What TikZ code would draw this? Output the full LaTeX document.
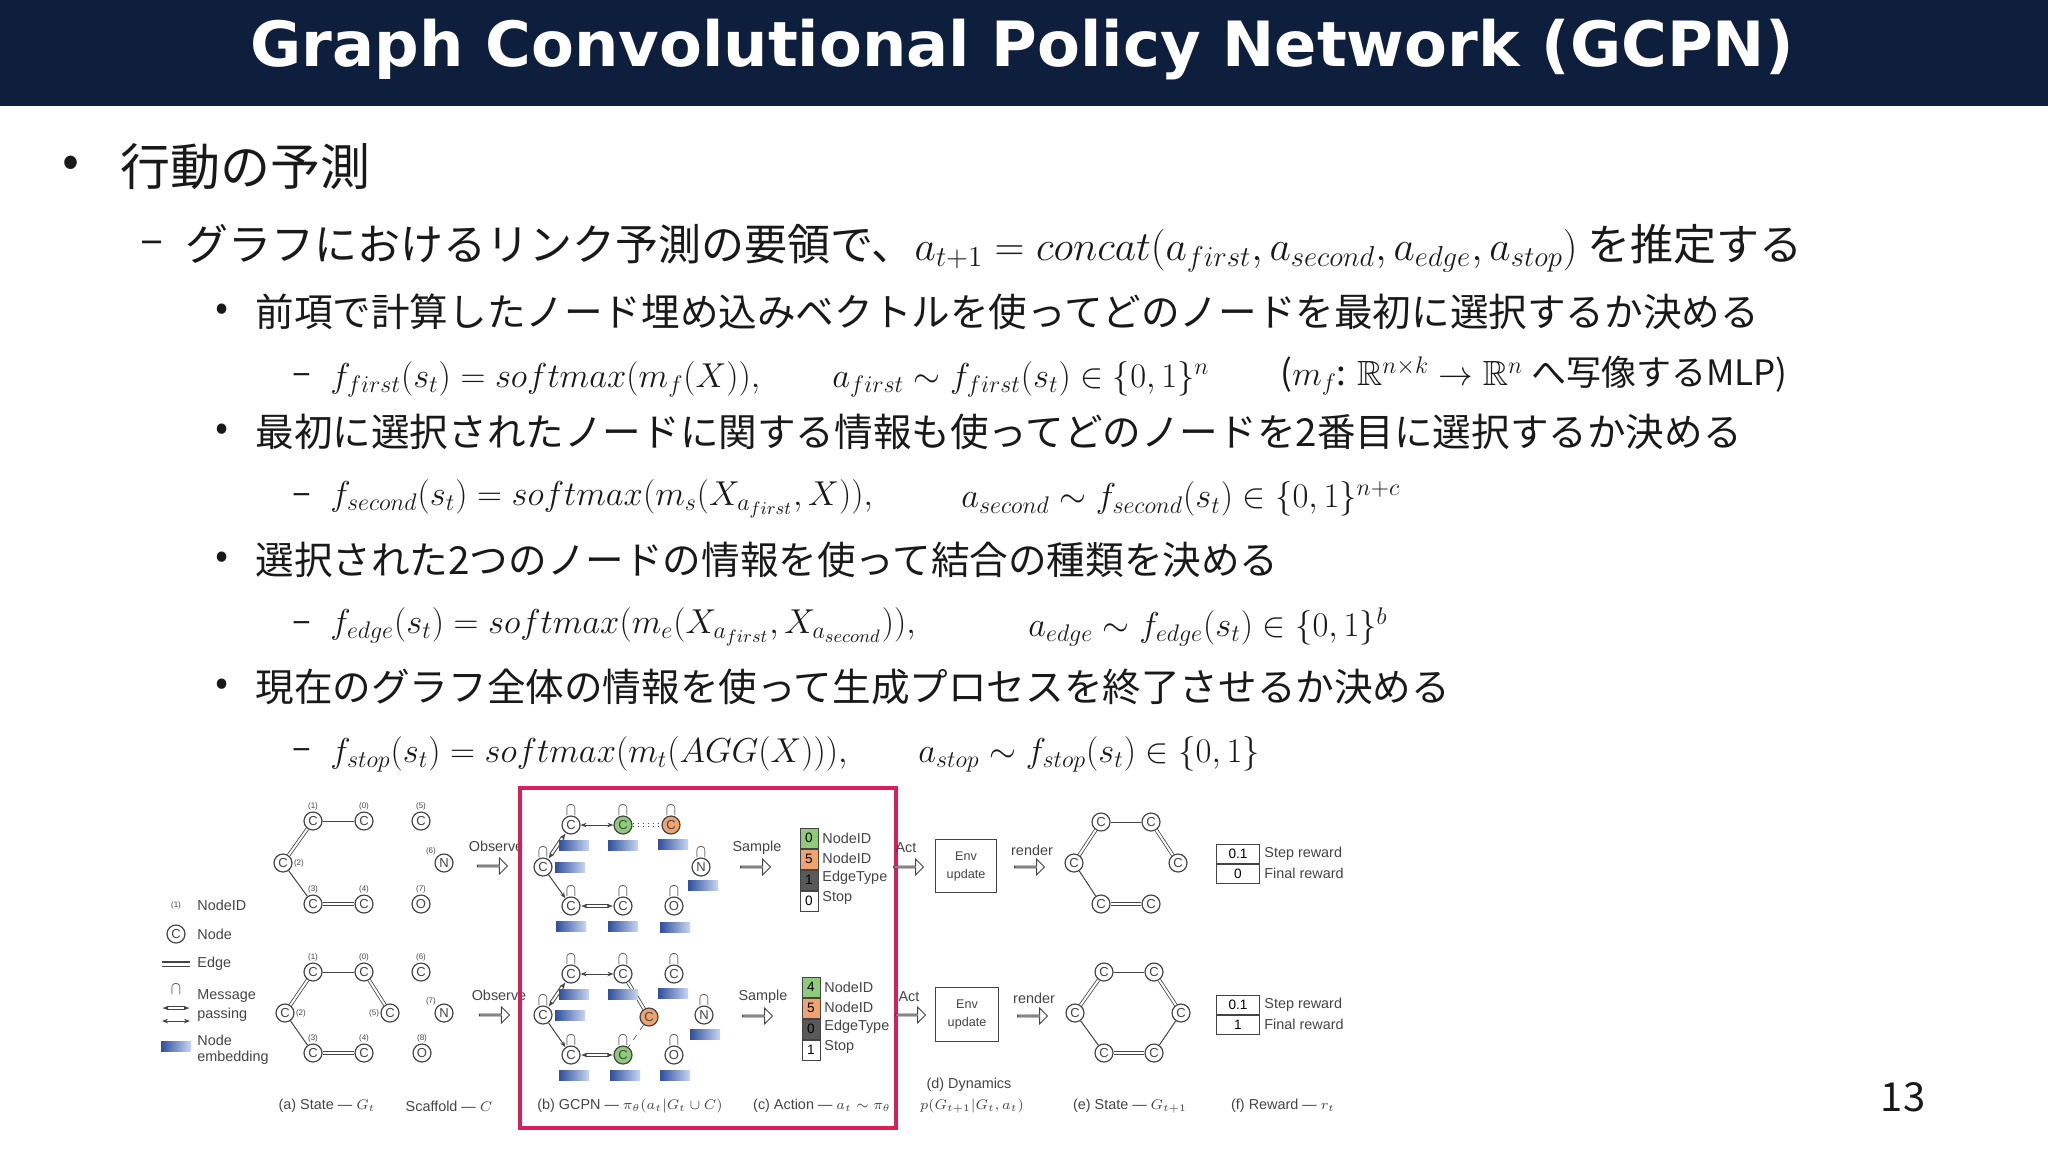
\documentclass[tikz,border=0pt]{standalone}
\usepackage{amssymb}
\usepackage{fontspec}
\setmainfont{Noto Sans CJK JP}
\newfontfamily\ttl{DejaVu Sans}
\newfontfamily\fig{Liberation Sans}
\usetikzlibrary{shapes.arrows,arrows.meta}
\definecolor{navy}{HTML}{0D1F3C}
\definecolor{pink}{HTML}{D81E5B}
\definecolor{fg}{HTML}{444444}
\definecolor{gfill}{HTML}{8FCB7A}
\definecolor{ofill}{HTML}{EFA36E}
\definecolor{embd}{HTML}{2F4F9E}
\definecolor{embl}{HTML}{C8D6F0}
\begin{document}
\begin{tikzpicture}[x=0.5pt,y=-0.5pt,
  txt/.style={anchor=west,inner sep=0,text=black!90},
  lv1/.style={txt,font=\fontsize{25}{28}\selectfont},
  lv2/.style={txt,font=\fontsize{21.5}{24}\selectfont},
  lv3/.style={txt,font=\fontsize{19.3}{22}\selectfont},
  fm/.style={txt,font=\fontsize{17.5}{20}\selectfont},
  atom/.style={circle,draw=fg,line width=0.6pt,inner sep=0,minimum size=9pt,font=\fig\fontsize{6.5}{7}\selectfont,text=fg,fill=white},
  idl/.style={font=\fig\fontsize{4}{5}\selectfont,text=fg,inner sep=0.5pt},
  ft/.style={font=\fig\fontsize{7.2}{8}\selectfont,text=fg,inner sep=0},
  sg/.style={draw=fg,line width=0.5pt},
  db/.style={draw=fg,double=white,double distance=1pt,line width=0.4pt},
  ar/.style={draw=fg,line width=0.5pt,{Stealth[length=3pt]}-{Stealth[length=3pt]}},
  ar1/.style={draw=fg,line width=0.5pt,-{Stealth[length=3pt]}},
  dar/.style={draw=fg,double=white,double distance=1pt,line width=0.5pt,{Latex[length=3pt]}-{Latex[length=3pt]}},
  bigarr/.style={single arrow,draw=fg,fill=white,line width=0.5pt,minimum width=8pt,minimum height=15pt,single arrow head extend=1.8pt,inner sep=0},
  emb/.style={rectangle,inner sep=0,minimum width=15pt,minimum height=5pt,left color=embd,right color=embl},
  hat/.style={label={[inner sep=0,text=fg,font=\fontsize{7}{7}\selectfont]above:\scalebox{1}[1.3]{$\cap$}}},
  cell/.style={draw=fg,line width=0.5pt,minimum width=9pt,minimum height=10pt,inner sep=0,font=\fig\fontsize{6.8}{7}\selectfont},
]
\useasboundingbox (0,0) rectangle (2048,1152);
\fill[white] (0,0) rectangle (2048,1152);
% title
\fill[navy] (0,0) rectangle (2048,106);
\node[text=white,font=\ttl\bfseries\fontsize{31.2}{34}\selectfont] (title) at (1022,50) {Graph Convolutional Policy Network (GCPN)};
% text
\node[lv1] (b1d) at (62,167) {•};
\node[lv1] (b1) at (120,167) {行動の予測};
\node[lv2] (b2d) at (140,248) {–};
\node[lv2] (b2) at (185,248) {グラフにおけるリンク予測の要領で、$a_{t+1}=concat(a_{first},a_{second},a_{edge},a_{stop})$ を推定する};
\node[lv3] (c1d) at (215,312) {•};
\node[lv3] (c1) at (255,312) {前項で計算したノード埋め込みベクトルを使ってどのノードを最初に選択するか決める};
\node[fm] (f1d) at (292,379) {–};
\node[fm] (f1a) at (330,379) {$f_{first}(s_t)=softmax(m_f(X)),$};
\node[fm] (f1b) at (832,379) {$a_{first}\sim f_{first}(s_t)\in\{0,1\}^n$};
\node[fm] (f1c) at (1280,376) {($m_f$: $\mathbb{R}^{n\times k}\rightarrow\mathbb{R}^n$ へ写像するMLP)};
\node[lv3] (c2d) at (215,432) {•};
\node[lv3] (c2) at (255,432) {最初に選択されたノードに関する情報も使ってどのノードを2番目に選択するか決める};
\node[fm] (f2d) at (292,499) {–};
\node[fm] (f2a) at (330,499) {$f_{second}(s_t)=softmax(m_s(X_{a_{first}},X)),$};
\node[fm] (f2b) at (961,499) {$a_{second}\sim f_{second}(s_t)\in\{0,1\}^{n+c}$};
\node[lv3] (c3d) at (215,560) {•};
\node[lv3] (c3) at (255,560) {選択された2つのノードの情報を使って結合の種類を決める};
\node[fm] (f3d) at (292,627) {–};
\node[fm] (f3a) at (330,627) {$f_{edge}(s_t)=softmax(m_e(X_{a_{first}},X_{a_{second}})),$};
\node[fm] (f3b) at (1028,627) {$a_{edge}\sim f_{edge}(s_t)\in\{0,1\}^{b}$};
\node[lv3] (c4d) at (215,687) {•};
\node[lv3] (c4) at (255,687) {現在のグラフ全体の情報を使って生成プロセスを終了させるか決める};
\node[fm] (f4d) at (292,754) {–};
\node[fm] (f4a) at (330,754) {$f_{stop}(s_t)=softmax(m_t(AGG(X))),$};
\node[fm] (f4b) at (918,754) {$a_{stop}\sim f_{stop}(s_t)\in\{0,1\}$};
\node[font=\fontsize{20}{22}\selectfont,text=black!90] (pg) at (1903,1097) {13};
% legend
\node[idl] (lg1) at (176,905) {(1)};
\node[ft,anchor=west] (lg1t) at (197,905) {NodeID};
\node[atom] (lg2) at (176,934) {C};
\node[ft,anchor=west] (lg2t) at (197,934) {Node};
\coordinate (e1) at (162,964); \coordinate (e2) at (190,964);
\draw[db,line width=0.6pt,double distance=1.5pt] (e1) -- (e2);
\node[ft,anchor=west] (lg3t) at (197,964) {Edge};
\node[inner sep=0,text=fg,font=\fontsize{7}{7}\selectfont] (lgh) at (176,989) {\scalebox{1}[1.3]{$\cap$}};
\coordinate (m1) at (162,1008); \coordinate (m2) at (190,1008);
\draw[dar] (m1) -- (m2);
\coordinate (m3) at (162,1021); \coordinate (m4) at (190,1021);
\draw[ar] (m3) -- (m4);
\node[ft,anchor=west] (lg4t) at (197,996) {Message};
\node[ft,anchor=west] (lg4u) at (197,1015) {passing};
\node[emb] (lge) at (176,1046) {};
\node[ft,anchor=west] (lg5t) at (197,1040) {Node};
\node[ft,anchor=west] (lg5u) at (197,1058) {embedding};
% (a) top
\node[atom,label={[idl]above:(1)}] (a1) at (313,821) {C};
\node[atom,label={[idl]above:(0)}] (a0) at (364,821) {C};
\node[atom,label={[idl]above:(5)}] (a5) at (421,821) {C};
\node[atom,label={[idl]right:(2)}] (a2) at (283,863) {C};
\node[atom,label={[idl]above:(3)}] (a3) at (313,904) {C};
\node[atom,label={[idl]above:(4)}] (a4) at (364,904) {C};
\node[atom,label={[idl]above left:(6)}] (a6) at (444,863) {N};
\node[atom,label={[idl]above:(7)}] (a7) at (421,904) {O};
\draw[sg] (a1) -- (a0); \draw[db] (a1) -- (a2); \draw[sg] (a2) -- (a3); \draw[db] (a3) -- (a4);
% (a) bottom
\node[atom,label={[idl]above:(1)}] (b1n) at (313,972) {C};
\node[atom,label={[idl]above:(0)}] (b0n) at (364,972) {C};
\node[atom,label={[idl]above:(6)}] (b6n) at (421,972) {C};
\node[atom,label={[idl]right:(2)}] (b2n) at (285,1013) {C};
\node[atom,label={[idl]left:(5)}] (b5n) at (390,1013) {C};
\node[atom,label={[idl]above left:(7)}] (b7n) at (444,1013) {N};
\node[atom,label={[idl]above:(3)}] (b3n) at (313,1053) {C};
\node[atom,label={[idl]above:(4)}] (b4n) at (364,1053) {C};
\node[atom,label={[idl]above:(8)}] (b8n) at (422,1053) {O};
\draw[sg] (b1n) -- (b0n); \draw[db] (b1n) -- (b2n); \draw[db] (b0n) -- (b5n); \draw[sg] (b2n) -- (b3n); \draw[db] (b3n) -- (b4n);
% observe
\node[ft] (ob1) at (496,846) {Observe};
\node[bigarr] (oa1) at (492,866) {};
\node[ft] (ob2) at (499,995) {Observe};
\node[bigarr] (oa2) at (494,1015) {};
% pink box
\draw[pink,line width=1.6pt] (520,788) rectangle (896,1128);
% GCPN top
\node[atom,hat] (g1) at (571,825) {C};
\node[atom,hat,fill=gfill] (g2) at (623,825) {C};
\node[atom,hat,fill=ofill] (g3) at (671,825) {C};
\node[atom,hat] (g4) at (543,867) {C};
\node[atom,hat] (g5) at (701,867) {N};
\node[atom,hat] (g6) at (571,906) {C};
\node[atom,hat] (g7) at (623,906) {C};
\node[atom,hat] (g8) at (674,906) {O};
\draw[ar] (g1) -- (g2);
\draw[fg,line width=0.5pt,dotted,double=white,double distance=1.2pt] (g2) -- (g3);
\draw[dar] (g4) -- (g1);
\draw[ar1] (g4) -- (g6);
\draw[dar] (g6) -- (g7);
\node[emb] (ge1) at (574,845) {};
\node[emb] (ge2) at (623,845) {};
\node[emb] (ge3) at (673,844) {};
\node[emb] (ge4) at (570,867) {};
\node[emb] (ge5) at (703,885) {};
\node[emb] (ge6) at (571,926) {};
\node[emb] (ge7) at (623,926) {};
\node[emb] (ge8) at (675,927) {};
% GCPN bottom
\node[atom,hat] (h1) at (571,974) {C};
\node[atom,hat] (h2) at (623,974) {C};
\node[atom,hat] (h3) at (674,974) {C};
\node[atom,hat] (h4) at (543,1015) {C};
\node[atom,fill=ofill] (h5) at (649,1017) {C};
\node[atom,hat] (h6) at (704,1015) {N};
\node[atom,hat] (h7) at (571,1055) {C};
\node[atom,hat,fill=gfill] (h8) at (623,1055) {C};
\node[atom,hat] (h9) at (674,1055) {O};
\draw[ar] (h1) -- (h2);
\draw[db] (h2) -- (h5);
\draw[dar] (h4) -- (h1);
\draw[ar1] (h4) -- (h7);
\draw[dar] (h7) -- (h8);
\draw[fg,line width=0.3pt,dashed] (h5) -- (h8);
\node[emb] (he1) at (574,994) {};
\node[emb] (he2) at (623,994) {};
\node[emb] (he3) at (673,993) {};
\node[emb] (he4) at (570,1015) {};
\node[emb] (he6) at (705,1034) {};
\node[emb] (he7) at (574,1075) {};
\node[emb] (he8) at (625,1075) {};
\node[emb] (he9) at (675,1075) {};
% sample
\node[ft] (sp1) at (757,848) {Sample};
\node[bigarr] (sa1) at (755,867) {};
\node[ft] (sp2) at (763,997) {Sample};
\node[bigarr] (sa2) at (757,1016) {};
% action tables
\node[cell,fill=gfill] (t1) at (809,838) {0};
\node[cell,fill=ofill,anchor=north] (t2) at (t1.south) {5};
\node[cell,fill=gray!70!black,anchor=north] (t3) at (t2.south) {1};
\node[cell,fill=white,anchor=north] (t4) at (t3.south) {0};
\node[ft,anchor=west] (t1t) at (822,838) {NodeID};
\node[ft,anchor=west] (t2t) at (822,858) {NodeID};
\node[ft,anchor=west] (t3t) at (822,878) {EdgeType};
\node[ft,anchor=west] (t4t) at (822,898) {Stop};
\node[cell,fill=gfill] (u1) at (811,987) {4};
\node[cell,fill=ofill,anchor=north] (u2) at (u1.south) {5};
\node[cell,fill=gray!70!black,anchor=north] (u3) at (u2.south) {0};
\node[cell,fill=white,anchor=north] (u4) at (u3.south) {1};
\node[ft,anchor=west] (u1t) at (824,987) {NodeID};
\node[ft,anchor=west] (u2t) at (824,1007) {NodeID};
\node[ft,anchor=west] (u3t) at (824,1027) {EdgeType};
\node[ft,anchor=west] (u4t) at (824,1047) {Stop};
% act
\node[ft] (ac1) at (906,848) {Act};
\node[bigarr] (aa1) at (908,867) {};
\node[ft] (ac2) at (909,997) {Act};
\node[bigarr] (aa2) at (910,1015) {};
% env
\node[draw=fg,line width=0.5pt,minimum width=30.5pt,minimum height=26.5pt,align=center,ft,font=\fig\fontsize{6.3}{9}\selectfont] (env1) at (966,866) {Env\\update};
\node[draw=fg,line width=0.5pt,minimum width=31.5pt,minimum height=27pt,align=center,ft,font=\fig\fontsize{6.3}{9}\selectfont] (env2) at (967,1014) {Env\\update};
\node[ft] (rn1) at (1032,850) {render};
\node[bigarr] (ra1) at (1029,867) {};
\node[ft] (rn2) at (1034,998) {render};
\node[bigarr] (ra2) at (1032,1016) {};
% (e) rings
\node[atom] (r1) at (1101,822) {C};
\node[atom] (r2) at (1151,822) {C};
\node[atom] (r3) at (1074,863) {C};
\node[atom] (r4) at (1178,863) {C};
\node[atom] (r5) at (1101,904) {C};
\node[atom] (r6) at (1151,904) {C};
\draw[sg] (r1) -- (r2); \draw[db] (r1) -- (r3); \draw[db] (r2) -- (r4); \draw[sg] (r3) -- (r5); \draw[db] (r5) -- (r6);
\node[atom] (s1) at (1104,972) {C};
\node[atom] (s2) at (1154,972) {C};
\node[atom] (s3) at (1075,1013) {C};
\node[atom] (s4) at (1181,1013) {C};
\node[atom] (s5) at (1104,1053) {C};
\node[atom] (s6) at (1154,1053) {C};
\draw[sg] (s1) -- (s2); \draw[db] (s1) -- (s3); \draw[db] (s2) -- (s4); \draw[sg] (s3) -- (s5); \draw[sg] (s4) -- (s6); \draw[db] (s5) -- (s6);
% rewards
\node[cell,minimum width=21.5pt,minimum height=9.5pt] (w1) at (1238,854) {0.1};
\node[cell,minimum width=21.5pt,minimum height=9.5pt,anchor=north] (w2) at (w1.south) {0};
\node[ft,anchor=west] (w1t) at (1264,854) {Step reward};
\node[ft,anchor=west] (w2t) at (1264,873) {Final reward};
\node[cell,minimum width=21.5pt,minimum height=9.5pt] (v1) at (1238,1005) {0.1};
\node[cell,minimum width=21.5pt,minimum height=9.5pt,anchor=north] (v2) at (v1.south) {1};
\node[ft,anchor=west] (v1t) at (1264,1005) {Step reward};
\node[ft,anchor=west] (v2t) at (1264,1024) {Final reward};
% captions
\node[ft] (ca) at (327,1106) {(a) State — $G_t$};
\node[ft] (cs) at (449,1106) {Scaffold — $C$};
\node[ft] (cb) at (630,1106) {(b) GCPN — $\pi_\theta(a_t|G_t\cup C)$};
\node[ft] (cc) at (822,1106) {(c) Action — $a_t\sim\pi_\theta$};
\node[ft] (cd) at (969,1085) {(d) Dynamics};
\node[ft] (cd2) at (972,1106) {$p(G_{t+1}|G_t,a_t)$};
\node[ft] (ce) at (1130,1106) {(e) State — $G_{t+1}$};
\node[ft] (cf) at (1283,1106) {(f) Reward — $r_t$};
\end{tikzpicture}
\end{document}
